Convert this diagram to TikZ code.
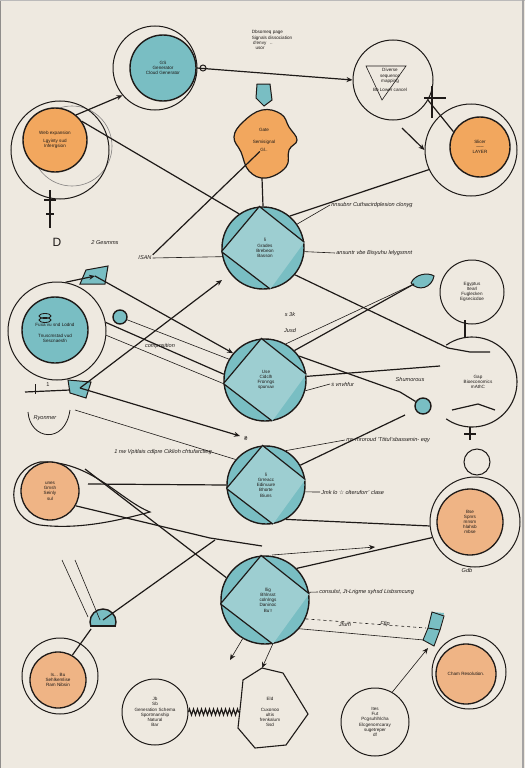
\documentclass[tikz,border=0pt]{standalone}
\usepackage{fontspec}
\setmainfont{Liberation Sans}
\newfontfamily\symf{DejaVu Sans}
\usetikzlibrary{arrows.meta,decorations.pathmorphing,shapes.geometric}
\definecolor{bgc}{HTML}{EEE9E0}
\definecolor{tealc}{HTML}{79BEC3}
\definecolor{tealp}{HTML}{9DCED1}
\definecolor{orangec}{HTML}{F2A75E}
\definecolor{peach}{HTML}{EFB485}
\definecolor{ink}{HTML}{1E1A18}
\newcommand\myTiny{\fontsize{4.6}{5.2}\selectfont}
\newcommand\myLbl{\fontsize{5.6}{6.4}\selectfont\itshape}
\begin{document}
\begin{tikzpicture}[x=1pt,y=-1pt,
  tc/.style={circle,draw=ink,line width=1.4pt,fill=tealc,inner sep=0pt,minimum size=#1,align=center,font=\myTiny,text=ink},
  oc/.style={circle,draw=ink,line width=1.4pt,fill=orangec,inner sep=0pt,minimum size=#1,align=center,font=\myTiny,text=ink},
  pc/.style={circle,draw=ink,line width=1.3pt,fill=peach,inner sep=0pt,minimum size=#1,align=center,font=\myTiny,text=ink},
  ring/.style={circle,draw=ink,line width=1pt,inner sep=0pt,minimum size=#1,align=center,font=\myTiny,text=ink},
  faint/.style={circle,draw=ink!55,line width=0.6pt,inner sep=0pt,minimum size=#1},
  ln/.style={draw=ink,line width=1.2pt},
  thn/.style={draw=ink,line width=0.6pt},
  arr/.style={-{Stealth[length=6pt,width=5pt]}},
  lbl/.style={font=\myLbl,text=ink,inner sep=1pt},
  txt/.style={font=\myTiny,text=ink,align=center,inner sep=0pt},
  tealsh/.style={draw=ink,line width=1pt,fill=tealc}
]
\path[use as bounding box,fill=bgc] (0,0) rectangle (525,768);
\draw[ink!50,line width=2pt] (0,0) -- (0,768);
\draw[ink!30,line width=1pt] (0,0.5) -- (525,0.5);
\draw[ink!40,line width=1.2pt] (523,0) -- (523,768);

% ---------- top row ----------
\node[ring=84] (tAr) at (155,68) {};
\node[tc=66] (tA) at (163,68) {GS\\Generator\\Cloud Generator};
\node[faint=80] (oAr1) at (72,146) {};
\node[ring=98] (oAr) at (60,150) {};
\node[oc=64] (oA) at (55,140) {Web expansion\\[2pt]Lgyinty sud\\Inferrgsion};

\node[txt,align=left] (toptxt) at (272,40) {Dbsomeq page\\Signals dissociation\\\ d'envy \ \ ..\\\ \ \ usor};

\draw[tealsh] (257,84) -- (270,84) -- (272,100) -- (264,106) -- (256,98) -- cycle;
\draw[draw=ink,line width=1.2pt,fill=orangec] plot[smooth cycle,tension=0.7] coordinates
 {(262,110) (281,114) (289,127) (297,140) (289,150) (286,167) (266,178) (249,171) (241,152) (234,137) (243,122)};
\node[txt] (head) at (264,140) {Gate\\[6pt]Semisignal\\[3pt]Gl..};

\node[ring=80] (rT) at (393,80) {};
\draw[thn] (366,66) -- (406,66) -- (382,100) -- cycle;
\node[txt] (rTt) at (390,80) {Diverse\\sequence\\mapping\\[4pt]Bo Lower cancel};
\draw[ln] (432,86) -- (432,118);
\draw[ln] (424,98) -- (446,98);

\node[ring=92] (oBr) at (471,150) {};
\node[oc=60] (oB) at (480,147) {Slicer\\-----\\LAYER};

% ---------- centre column ----------
\node[tc=82] (C1) at (263,248) {};
\node[tc=82] (C2) at (265,380) {};
\node[tc=78] (C3) at (266,485) {};
\node[tc=88] (C4) at (265,600) {};
\foreach \c in {C1,C2,C3,C4}{
  \fill[tealp] (\c.185) -- (\c.95) -- (\c.8) -- (\c.-80) -- cycle;
  \draw[ln] (\c.185) -- (\c.95) -- (\c.8);
  \draw[ln] (\c.185) -- (\c.-80);
}
\node[txt] (C1t) at (265,248) {ſi\\Grades\\Brebeon\\Basson};
\node[txt] (C2t) at (266,380) {Use\\Cidclh\\Fronngs\\spunuw};
\node[txt] (C3t) at (266,485) {ſi\\Grreacc\\Edinuure\\Bhorte\\Biuns};
\node[txt] (C4t) at (268,600) {ſlig\\Bhlnsst\\colnlngs\\Daninoc\\Bu'r};

% ---------- left column ----------
\node[ring=98] (tLr) at (57,331) {};
\node[tc=66] (tL) at (55,330) {\\[4pt]Fuxa vu snd Lodnd\\[5pt]Tnuscmstad vud\\Sescnaesfn};
\draw[ink,line width=0.8pt] (45,316) ellipse (6 and 2.5);
\draw[ink,line width=0.8pt] (45,320) ellipse (6 and 2.5);
\node[tc=14] (sc1) at (120,317) {};
\draw[tealsh] (86,270) -- (108,266) -- (105,284) -- (80,284) -- cycle;
\coordinate (q1) at (95,276);
\draw[tealsh] (68,380) -- (91,382) -- (86,398) -- (70,393) -- cycle;
\coordinate (q2) at (80,388);

\node[lbl] (Dl) at (57,242) {\upshape\large D};
\node[lbl] (gl) at (105,243) {2 Gesmms};
\node[lbl] (isan) at (145,258) {ISAN};
\draw[ln] (50,190) -- (50,228);
\draw[ln] (44,200) -- (56,200);
\draw[ln] (46,214) -- (54,214);

\node[lbl] (compl) at (160,346) {composition};
\draw[ln] (25,392) -- (70,390);
\draw[thn] (35,384) -- (35,394);
\node[lbl] (onel) at (48,385) {\upshape 1};
\node[lbl] (ryl) at (45,418) {Ryonmer};
\draw[line width=0.8pt,ink] (28,412) .. controls (30,440) and (65,445) .. (70,410);

\node[lbl] (midlbl) at (163,452) {1 nw Vpitlais cdlpre Ciklioh cfrtufarctieg};

\draw[ink,line width=1.1pt] (40,462) .. controls (5,470) and (5,520) .. (40,525) .. controls (80,530) and (120,520) .. (150,512) .. controls (120,500) and (90,460) .. (40,462);
\coordinate (oCr) at (88,484);
\node[pc=58] (oC) at (50,491) {unes\\Gmsh\\Seinly\\sul};
\node[ring=90] (oDr) at (475,522) {};
\node[pc=66] (oD) at (470,522) {Bse\\Spnrs\\mnsm\\hlahsb\\mbse};
\node[lbl] (gdl) at (467,570) {Gdb};

% ---------- right column ----------
\node[ring=64] (rC) at (472,292) {Egyptus\\Itearl\\Fuglecken\\Egsecicdoe};
\draw[tealsh] (411,283) .. controls (415,274) and (428,272) .. (434,276) .. controls (432,288) and (418,292) .. (411,283);
\coordinate (dropc) at (414,284);
\draw[ink,line width=1.1pt] (472,382) ++(-125:45) arc (-125:125:45);
\coordinate (rHa) at (448,348);
\coordinate (rHb) at (440,366);
\node[txt] (rHt) at (478,382) {Gap\\Bioeconomics\\mAthC};
\draw[ln] (448,348) -- (470,352) -- (490,352);
\draw[ln] (452,410) -- (478,404) -- (495,410);
\draw[ln] (465,320) -- (465,338);
\draw[ln] (470,427) -- (470,440);
\draw[ln] (464,434) -- (476,434);
\node[tc=16] (sc2) at (423,406) {};
\node[ring=26] (sc3) at (477,462) {};

\node[ring=74] (oFr) at (469,672) {};
\node[pc=60] (oF) at (466,674) {Cham Resolution.};
\fill[tealc] (423,640) -- (434,646) -- (440,630) -- (444,613) -- (432,612) -- (428,628) -- cycle;
\draw[ink,line width=0.9pt] (432,612) -- (444,616) -- (440,630) -- (434,646) -- (423,640) -- (428,628) -- cycle;
\draw[ink,line width=0.9pt] (428,628) -- (440,630);
\coordinate (stkA) at (426,628);
\coordinate (stkB) at (424,640);
\coordinate (stkC) at (428,648);

\node[tc=26] (tH) at (103,622) {};
\fill[bgc] (85,626) rectangle (121,640);
\draw[ln] (90,626) -- (116,626);
\coordinate (tHc) at (103,620);
\node[ring=76] (oEr) at (60,676) {};
\node[pc=56] (oE) at (58,680) {Is... Bu\\Sehlkemlise\\Ram Nibsin};

% ---------- bottom row ----------
\node[ring=66] (bc1) at (155,712) {Jb\\Sb\\Generation Schema\\Sportmanship\\Natural\\Bar};
\draw[draw=ink,line width=1.1pt] (243,680) -- (262,668) -- (283,673) -- (308,714) -- (286,745) -- (255,748) -- (238,728) -- (241,700) -- cycle;
\coordinate (bmw) at (240,712);
\coordinate (bmn) at (262,668);
\node[txt] (bm) at (270,712) {Eld\\\\Cuxonoo\\ultis\\frenkalum\\Ssd};
\node[ring=68] (bc2) at (375,722) {Ites\\Fut\\Pcgsuhlhlcha\\Elcgenomcaray\\sugetreper\\df};

% ---------- connectors ----------
\draw[ln,arr] (oA.50) -- (tAr.220);
\draw[ln,arr] (tA.east) -- (rT.west);
\draw[ink,line width=1pt] (203,68) circle (3);
\draw[ln] (oA.35) -- (C1.125);
\draw[ln] (isan.north east) -- (head.-110);
\draw[ln] (C1.50) -- (oBr.205);
\draw[ln,arr] (402,128) -- (oBr.180);
\draw[ln] (rT.-30) -- (oB.150);
\draw[ln] (262,178) -- (C1.north);
\draw[thn] (C1.35) -- (330,205) node[lbl,right] (l1) {nnsubnr Cuthacirdplesion clonyg};
\draw[thn] (C1.-5) -- (335,253) node[lbl,right] (l2) {ansuntr vbe Bisyuhu lelygsmnt};
\draw[thn] (isan.east) -- (C1.192);
\draw[ln,arr] (q1) -- (C2.140);
\draw[ln,arr] (tLr.80) -- (q1);
\draw[ln,arr] (q2) -- (222,280);
\draw[ln] (tLr.10) -- (C2.172);
\draw[thn] (tLr.-5) -- (C2.185);
\draw[thn] (sc1) -- (C2.150);
\draw[ln] (C1.-40) -- (rHa);
\draw[ln] (C2.45) -- (dropc);
\draw[thn] (C2.60) -- (dropc);
\node[lbl] (s3k) at (290,314) {s 3k};
\node[lbl] (jusd) at (290,330) {Jusd};
\draw[ln] (C2.5) -- (rHb);
\draw[ln] (C2.35) -- (400,392) -- (sc2);
\node[lbl] (shl) at (410,379) {Shumorous};
\draw[thn] (C2.-15) -- (330,384) node[lbl,right] (l3) {ṡ vnvhfur};
\draw[ln] (C3.30) -- (405,415);
\draw[thn] (C3.60) -- (345,440) node[lbl,right] (l4) {ms mroroud 'Ttitul'sbassenin- eqy};
\coordinate (qend) at (240,436);
\draw[ln,arr] (q2) -- (qend);
\node[lbl] (qg) at (246,438) {\upshape ₴};
\draw[thn] (75,410) -- (C3.140);
\draw[ln] (oCr) -- (C3.west);
\draw[ln] (85,469) -- (C4.150);
\draw[ln] (oC.-30) -- (210,538) -- (262,546);
\draw[thn] (C3.-10) -- (320,492) node[lbl,right] (l5) {Jmk lo {\symf\upshape ☆} olteruforr' clase};
\draw[ln] (C3.-60) -- (oDr.185);
\draw[ln] (C4.45) -- (oDr.200);
\draw[thn,arr] (272,555) -- (375,547);
\draw[thn] (C4.10) -- (318,592) node[lbl,right] (l6) {consulst, Jt-Lrigme syhsd Lisbsmcung};
\draw[thn,dashed] (C4.-25) -- (stkA);
\node[lbl] (jf) at (345,624) {Jfum};
\node[lbl] (ff) at (385,624) {Ffip};
\draw[thn] (C4.-40) -- (stkB);
\draw[thn,arr] (bc2.60) -- (stkC);
\draw[ln] (tHc) -- (215,540);
\draw[ln] (oE.60) -- (tH.-150);
\draw[thn] (62,560) -- (88,617);
\draw[thn] (75,560) -- (100,620);
\draw[ln,decorate,decoration={zigzag,amplitude=3pt,segment length=4pt}] (bc1.east) -- (bmw);
\draw[thn,arr] (C4.-80) -- (bmn);
\draw[thn,arr] (C4.-120) -- (230,660);
\end{tikzpicture}
\end{document}
